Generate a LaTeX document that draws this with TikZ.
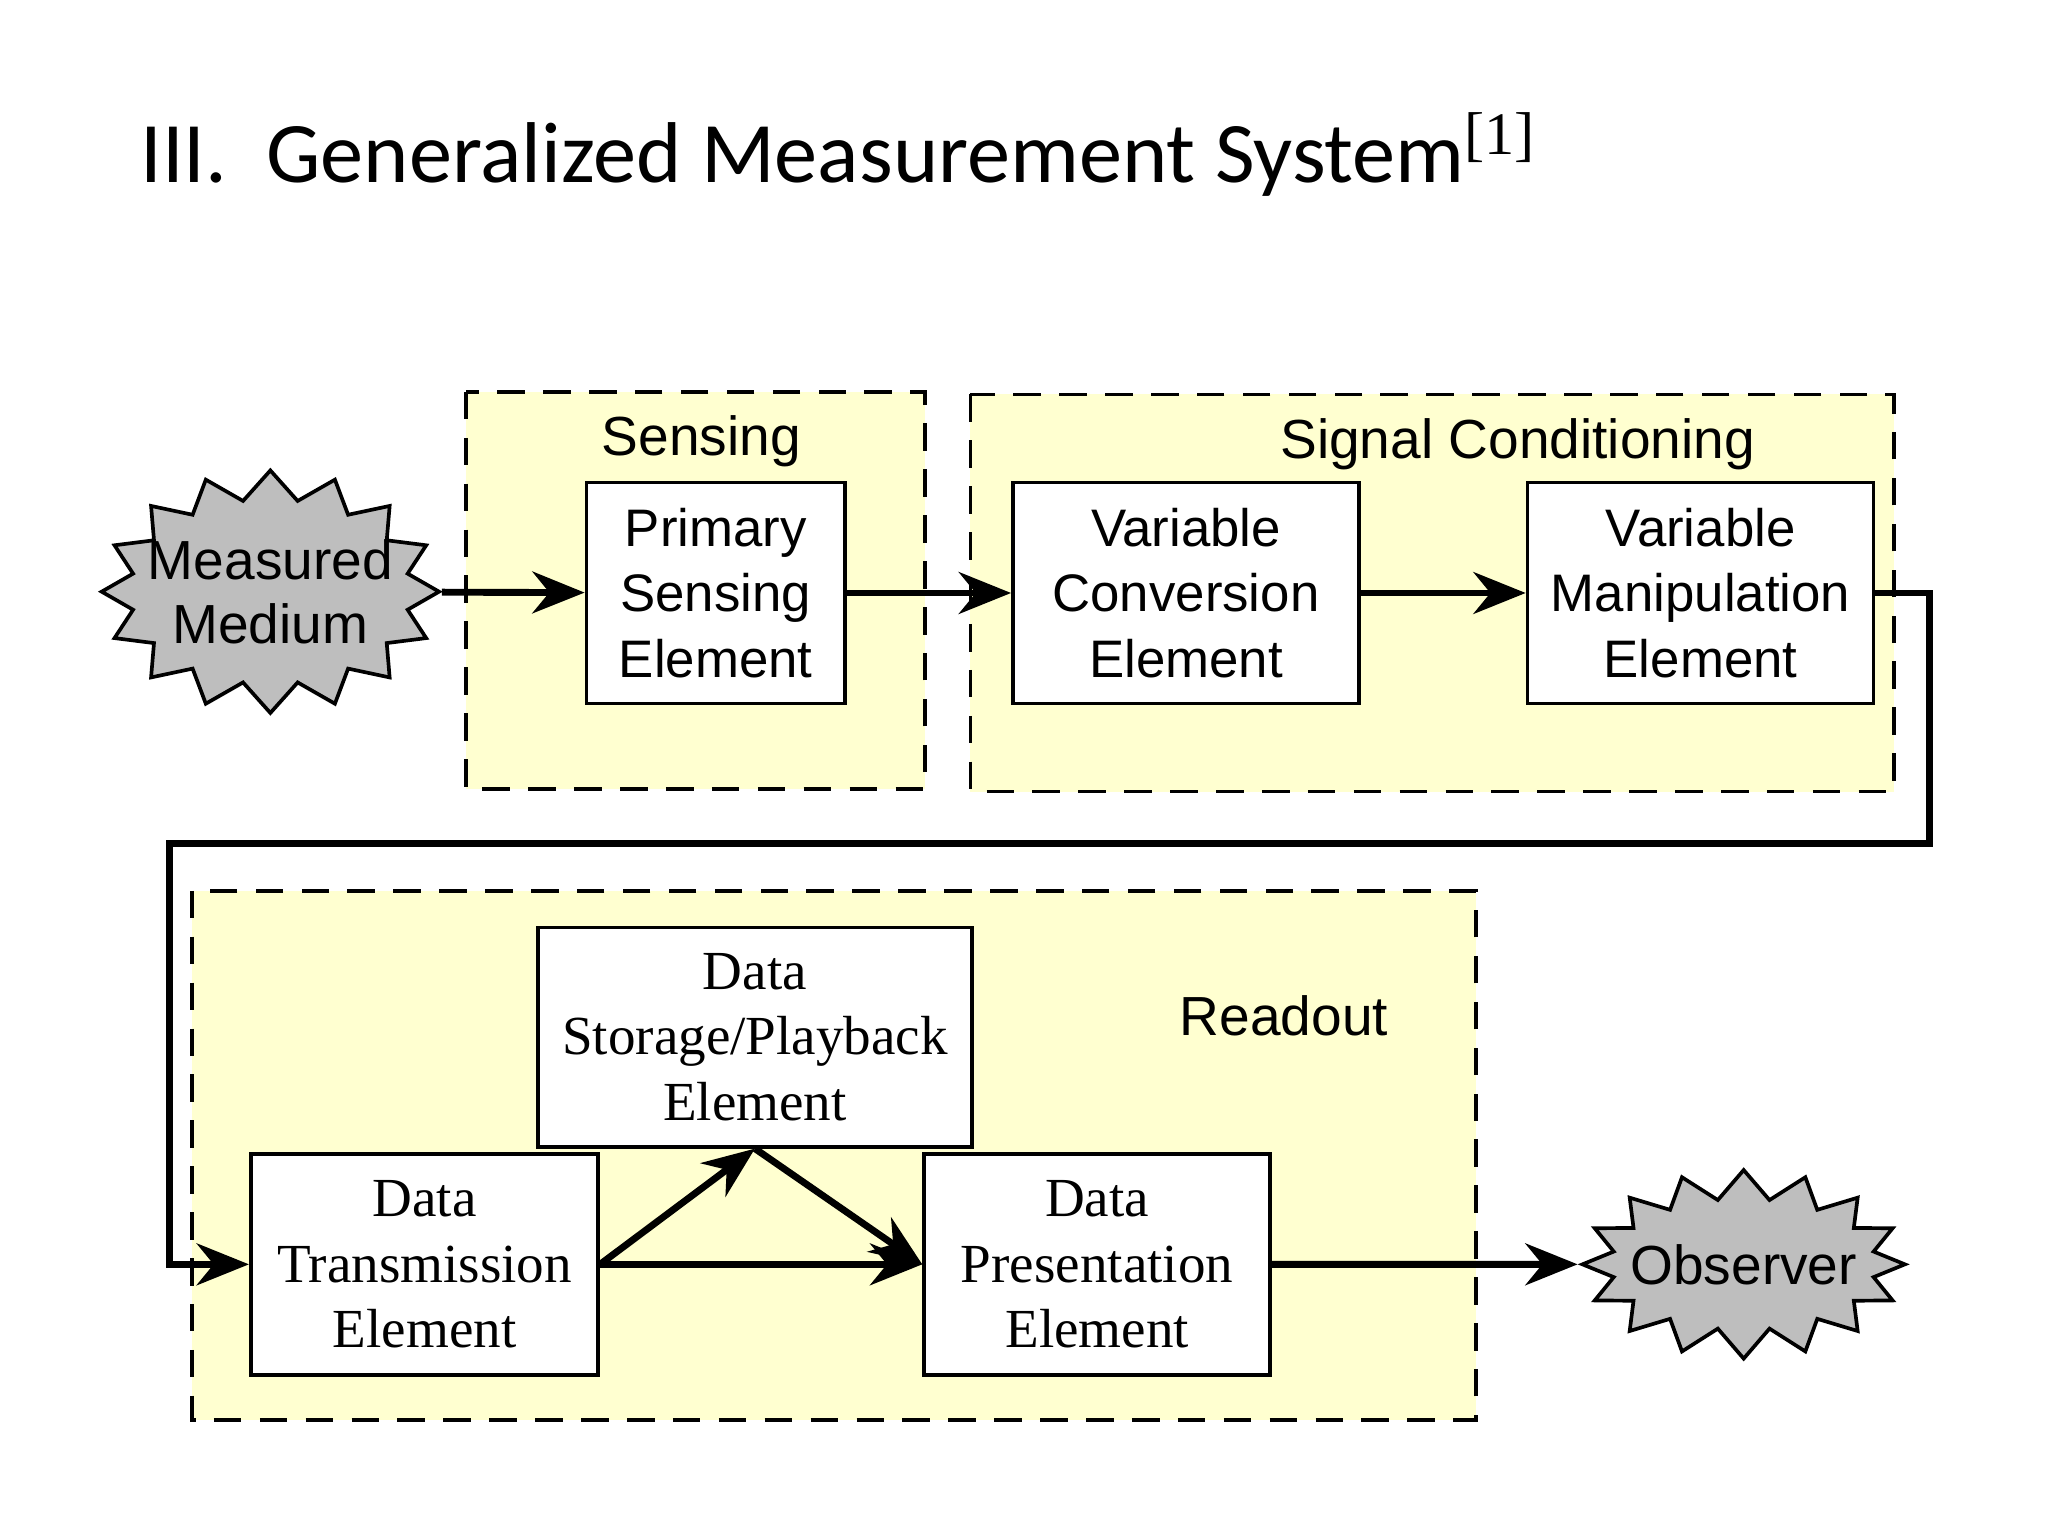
\documentclass[tikz,border=0pt]{standalone}
\usepackage{fontspec}
\setmainfont{Liberation Serif}
\setsansfont{Liberation Sans}
\newfontfamily\titlefont{Carlito}
\usetikzlibrary{shapes.symbols,arrows.meta}
\definecolor{paleyellow}{RGB}{255,255,208}
\definecolor{burstgray}{RGB}{190,190,190}
\tikzset{
  group/.style={draw,thick,dashed,dash pattern=on 6pt off 4pt,fill=paleyellow},
  block/.style={draw,thick,fill=white,align=center,inner sep=0pt},
  burst/.style={starburst,starburst points=16,starburst point height=2.2mm,
    random starburst=0,draw,thick,fill=burstgray,align=center,
    font=\sffamily\fontsize{12}{14}\selectfont},
  flow/.style={line width=1.5pt,-{Stealth[length=4mm,width=3.2mm]}}
}
\begin{document}
\begin{tikzpicture}[x=0.1mm,y=-0.1mm]
\useasboundingbox (0,0) rectangle (1568,1176);
\node[anchor=base west,font=\titlefont\fontsize{18.8}{22}\selectfont] (title) at (95,140)
  {III.\ \ Generalized Measurement System\textsuperscript{\rmfamily[1]}};
% groups
\draw[group] (357,300) rectangle (708,604);
\draw[group] (743,302) rectangle (1450,606);
\draw[group] (147,682) rectangle (1130,1087);
\node[font=\sffamily\fontsize{12}{14}\selectfont] (sensing) at (537,338) {Sensing};
\node[font=\sffamily\fontsize{12}{14}\selectfont] (signal) at (1162,340) {Signal Conditioning};
\node[font=\sffamily\fontsize{12}{14}\selectfont] (readout) at (983,778) {Readout};
% blocks
\begin{scope}[every node/.append style={font=\sffamily\fontsize{11.5}{14.2}\selectfont}]
\node[block,minimum width=19.8mm,minimum height=16.9mm] (pse) at (548,454) {Primary\\Sensing\\Element};
\node[block,minimum width=26.5mm,minimum height=16.9mm] (vce) at (908,454) {Variable\\Conversion\\Element};
\node[block,minimum width=26.5mm,minimum height=16.9mm] (vme) at (1302,454) {Variable\\Manipulation\\Element};
\end{scope}
\begin{scope}[every node/.append style={font=\rmfamily\fontsize{12}{14.2}\selectfont}]
\node[block,minimum width=33.2mm,minimum height=16.8mm] (dsp) at (578,794) {Data\\Storage/Playback\\Element};
\node[block,minimum width=26.6mm,minimum height=16.9mm] (dte) at (325,968) {Data\\Transmission\\Element};
\node[block,minimum width=26.5mm,minimum height=16.9mm] (dpe) at (840,968) {Data\\Presentation\\Element};
\end{scope}
\node[burst,inner xsep=-1.8mm,inner ysep=1mm] (medium) at (207,453) {Measured\\Medium};
\node[burst,inner xsep=-1.5mm,inner ysep=2mm] (observer) at (1335,968) {Observer};
% connectors
\coordinate (c1) at (1477,454);
\coordinate (c2) at (1477,646);
\coordinate (c3) at (130,646);
\coordinate (c4) at (130,968);
\draw[flow] (medium) -- (pse);
\draw[flow] (pse) -- (vce);
\draw[flow] (vce) -- (vme);
\draw[flow] (vme.east) -- (c1) -- (c2) -- (c3) -- (c4) -- (dte.west);
\draw[flow] (dte) -- (dpe);
\draw[flow] (dte.east) -- (dsp.south);
\draw[flow] (dsp.south) -- (dpe.west);
\draw[flow] (dpe) -- (observer);
\end{tikzpicture}
\end{document}
